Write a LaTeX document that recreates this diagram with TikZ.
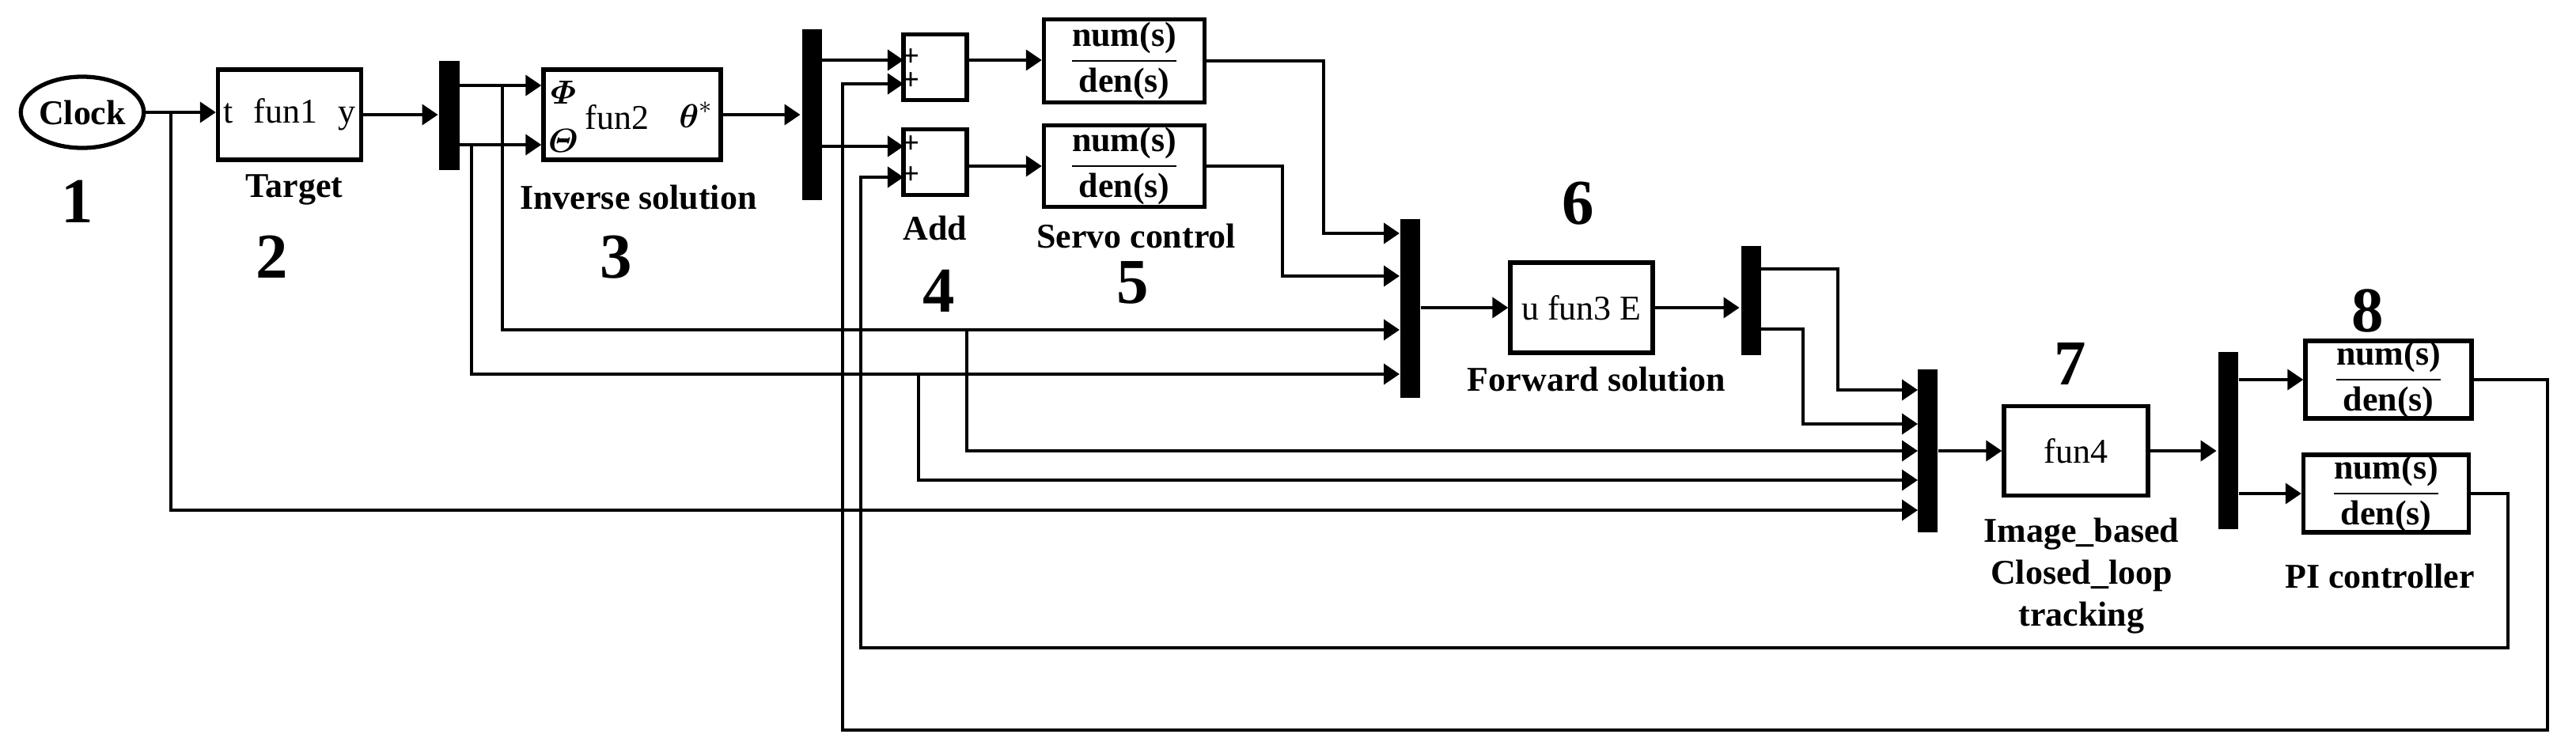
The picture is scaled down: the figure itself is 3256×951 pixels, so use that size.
\documentclass[tikz,border=0pt]{standalone}
\usepackage{amsmath}
\usepackage{fontspec}
\setmainfont{Liberation Serif}
\usetikzlibrary{arrows.meta,shapes.geometric}

\tikzset{
  blk/.style={draw, line width=1.5pt, inner sep=0pt, font=\fontsize{12.5}{13}\selectfont},
  mux/.style={fill=black, inner sep=0pt, minimum width=0.25cm},
  lbl/.style={inner sep=0pt, font=\fontsize{12.5}{15}\selectfont\bfseries, align=center},
  num/.style={inner sep=0pt, font=\fontsize{23}{23}\selectfont\bfseries},
  sgn/.style={inner sep=0pt, font=\fontsize{11}{11}\selectfont\bfseries},
}
\newcommand{\numden}{$\dfrac{\textbf{num(s)}}{\textbf{den(s)}}$}

\begin{document}
\begin{tikzpicture}[x=0.01cm, y=-0.01cm, line width=1.1pt,
  >={Triangle[length=0.2cm,width=0.26cm]}]
\useasboundingbox (0,0) rectangle (3256,951);

% Blocks
\node[blk, ellipse, minimum width=1.52cm, minimum height=0.9cm, font=\fontsize{12.5}{13}\selectfont\bfseries] (clock) at (104,142) {Clock};
\node[blk, minimum width=1.81cm, minimum height=1.14cm] (tgt) at (366,145) {t\hspace{0.6em}fun1\hspace{0.6em}y};
\node[mux, minimum height=1.37cm] (mux1) at (568,146) {};
\node[blk, minimum width=2.24cm, minimum height=1.14cm] (fun2) at (799,145) {};
\node[mux, minimum height=2.15cm] (mux2) at (1026,145) {};
\node[blk, minimum width=0.8cm, minimum height=0.83cm] (add1) at (1182,85) {};
\node[blk, minimum width=0.8cm, minimum height=0.83cm] (add2) at (1182,205) {};
\node[blk, minimum width=2.03cm, minimum height=1.05cm] (tf1) at (1421,77) {\numden};
\node[blk, minimum width=2.03cm, minimum height=1.03cm] (tf2) at (1421,210) {\numden};
\node[mux, minimum height=2.25cm] (mux6) at (1782,390) {};
\node[blk, minimum width=1.8cm, minimum height=1.14cm] (fun3) at (1999,389) {u fun3 E};
\node[mux, minimum height=1.37cm] (mux6b) at (2213,380) {};
\node[mux, minimum height=2.05cm] (mux7) at (2436,570) {};
\node[blk, minimum width=1.82cm, minimum height=1.13cm] (fun4) at (2624,570) {fun4};
\node[mux, minimum height=2.24cm] (mux8) at (2816,557) {};
\node[blk, minimum width=2.1cm, minimum height=0.98cm] (pi1) at (3019,480) {\numden};
\node[blk, minimum width=2.09cm, minimum height=0.98cm] (pi2) at (3016,624) {\numden};

% Inside fun2 and Add
\node[inner sep=0pt, font=\fontsize{13}{13}\selectfont] (phi) at (712,117) {$\boldsymbol{\varPhi}$};
\node[inner sep=0pt, font=\fontsize{13}{13}\selectfont] (tht) at (712,178) {$\boldsymbol{\varTheta}$};
\node[inner sep=0pt, font=\fontsize{12.5}{13}\selectfont] (f2) at (780,148) {fun2};
\node[inner sep=0pt, font=\fontsize{13}{13}\selectfont] (ths) at (880,145) {$\boldsymbol{\theta}^{*}$};
\node[sgn] (p1) at (1152,73) {+};
\node[sgn] (p2) at (1152,103) {+};
\node[sgn] (p3) at (1152,183) {+};
\node[sgn] (p4) at (1152,222) {+};

% Labels
\node[lbl] (l2) at (372,240) {Target};
\node[lbl] (l3) at (807,250) {Inverse solution};
\node[lbl] (l4) at (1182,288) {Add};
\node[lbl] (l5) at (1436,298) {Servo control};
\node[lbl] (l6) at (2018,480) {Forward solution};
\node[lbl] (l7) at (2631,728) {Image\_based\\Closed\_loop\\tracking};
\node[lbl] (l8) at (3008,728) {PI controller};
\node[num] (n1) at (98,255) {1};
\node[num] (n2) at (344,325) {2};
\node[num] (n3) at (779,325) {3};
\node[num] (n4) at (1187,368) {4};
\node[num] (n5) at (1432,357) {5};
\node[num] (n6) at (1995,257) {6};
\node[num] (n7) at (2617,460) {7};
\node[num] (n8) at (2993,393) {8};

% Ports and bends
\coordinate (b0) at (216,142);
\coordinate (m1o1) at (581,108);
\coordinate (m1o2) at (581,183);
\coordinate (b1) at (635,108);
\coordinate (b2) at (596,183);
\coordinate (m2o1) at (1038,76);
\coordinate (m2o2) at (1038,185);
\coordinate (a1i1) at (1142,76);
\coordinate (a1i2) at (1142,106);
\coordinate (a2i1) at (1142,185);
\coordinate (a2i2) at (1142,224);
\foreach \n/\y in {1/295,2/349,3/417,4/473} \coordinate (m6in\n) at (1769,\y);
\foreach \n/\y in {1/493,2/536,3/570,4/607,5/645} \coordinate (m7in\n) at (2424,\y);
\coordinate (k1) at (1673,295);
\coordinate (k2) at (1621,349);
\coordinate (m6o1) at (2226,340);
\coordinate (m6o2) at (2226,416);
\coordinate (k3) at (2323,493);
\coordinate (k4) at (2279,536);
\coordinate (b3) at (1222,417);
\coordinate (b4) at (1161,473);
\coordinate (k5) at (3220,923);
\coordinate (k6) at (1065,923);
\coordinate (k7) at (3170,819);
\coordinate (k8) at (1088,819);

% Connectors
\draw[->] (clock.east) -- (clock.east -| tgt.west);
\draw[->] (b0) |- (m7in5);
\draw[->] (tgt.east) -- (mux1.west |- tgt.east);
\draw[->] (m1o1) -- (fun2.west |- m1o1);
\draw[->] (m1o2) -- (fun2.west |- m1o2);
\draw[->] (b1) |- (m6in3);
\draw[->] (b2) |- (m6in4);
\draw[->] (fun2.east) -- (mux2.west |- fun2.east);
\draw[->] (m2o1) -- (a1i1);
\draw[->] (m2o2) -- (a2i1);
\draw[->] (add1.east |- a1i1) -- (tf1.west |- a1i1);
\draw[->] (add2.east |- tf2.west) -- (tf2.west);
\draw[->] (tf1.east) -| (k1) -- (m6in1);
\draw[->] (tf2.east) -| (k2) -- (m6in2);
\draw[->] (mux6.east |- fun3.west) -- (fun3.west);
\draw[->] (fun3.east) -- (mux6b.west |- fun3.east);
\draw[->] (m6o1) -| (k3) -- (m7in1);
\draw[->] (m6o2) -| (k4) -- (m7in2);
\draw[->] (b3) |- (m7in3);
\draw[->] (b4) |- (m7in4);
\draw[->] (mux7.east |- fun4.west) -- (fun4.west);
\draw[->] (fun4.east) -- (mux8.west |- fun4.east);
\draw[->] (mux8.east |- pi1.west) -- (pi1.west);
\draw[->] (mux8.east |- pi2.west) -- (pi2.west);
\draw[->] (pi1.east) -| (k5) -- (k6) |- (a1i2);
\draw[->] (pi2.east) -| (k7) -- (k8) |- (a2i2);

\end{tikzpicture}
\end{document}
